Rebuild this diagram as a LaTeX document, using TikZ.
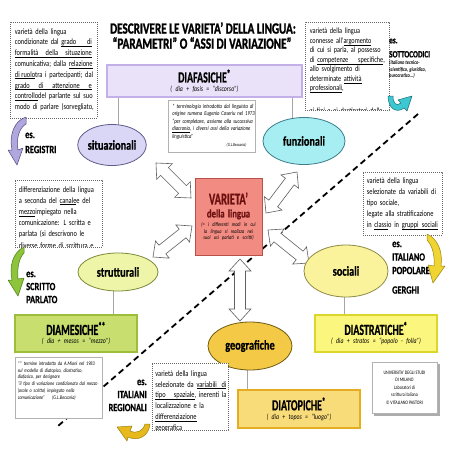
\documentclass[tikz,border=0pt]{standalone}
\usepackage{fontspec}
\setmainfont{Carlito}[FakeStretch=0.78]
\newfontfamily\titlefont{Carlito}[FakeStretch=0.72,FakeBold=1.2]
\newfontfamily\headfont{Carlito}[FakeStretch=0.64,FakeBold=0.6]
\newfontfamily\labfont{Carlito}[FakeStretch=0.76,FakeBold=0.7]
\usetikzlibrary{shapes.geometric,calc}
\pgfdeclarelayer{bg}
\pgfsetlayers{bg,main}
\newcommand{\jline}[1]{\hbox to\hsize{#1}}
\newcommand{\nline}[1]{\hbox to\hsize{#1\hfil}}
\newcommand{\ulw}[1]{\setbox0\hbox{#1}\rlap{\vrule height -1.2pt depth 1.7pt width\wd0}\box0}
\newcommand{\uls}{\leaders\hrule height -1.2pt depth 1.7pt\hskip 0.25em plus 0.4em minus 0.05em}
\newcommand{\dblarrow}[3]{%
  \coordinate (#1ha) at ($(#2)!12pt!(#3)$);
  \coordinate (#1hb) at ($(#3)!12pt!(#2)$);
  \filldraw[blockarrow] (#2) -- ($(#1ha)!11pt!90:(#3)$) -- ($(#1ha)!5.5pt!90:(#3)$)
    -- ($(#1hb)!5.5pt!-90:(#2)$) -- ($(#1hb)!11pt!-90:(#2)$) -- (#3)
    -- ($(#1hb)!11pt!90:(#2)$) -- ($(#1hb)!5.5pt!90:(#2)$)
    -- ($(#1ha)!5.5pt!-90:(#3)$) -- ($(#1ha)!11pt!-90:(#3)$) -- cycle;}
\definecolor{diaffill}{HTML}{EAE2F8}
\definecolor{diafdraw}{HTML}{C4B0E8}
\definecolor{sitfill}{HTML}{DAD6F6}
\definecolor{sitdraw}{HTML}{5C5C8A}
\definecolor{funzfill}{HTML}{A6EEF2}
\definecolor{funzdraw}{HTML}{3A7D8C}
\definecolor{varfill}{HTML}{F28B82}
\definecolor{vardraw}{HTML}{B5524B}
\definecolor{vartxt}{HTML}{6B0F0F}
\definecolor{strfill}{HTML}{EEF4A8}
\definecolor{strdraw}{HTML}{7C8A3A}
\definecolor{diamfill}{HTML}{C8DF70}
\definecolor{diamdraw}{HTML}{9DBE3B}
\definecolor{socfill}{HTML}{FBF39C}
\definecolor{socdraw}{HTML}{8C8A44}
\definecolor{diastfill}{HTML}{FBF67E}
\definecolor{diastdraw}{HTML}{DCD52A}
\definecolor{geofill}{HTML}{F4C945}
\definecolor{geodraw}{HTML}{6E5A12}
\definecolor{diatfill}{HTML}{F9DC7A}
\definecolor{diatdraw}{HTML}{E5AE22}
\definecolor{lavarrow}{HTML}{B2A6DE}
\definecolor{lavdark}{HTML}{4A4A7A}
\definecolor{greenarrow}{HTML}{8CC43C}
\definecolor{greendark}{HTML}{4E7A18}
\definecolor{yelarrow}{HTML}{F0D431}
\definecolor{yeldark}{HTML}{9A8410}
\definecolor{goldarrow}{HTML}{E7B91C}
\definecolor{tealarrow}{HTML}{3CC8D0}
\definecolor{tealdark}{HTML}{1D6E7A}
\begin{document}
\begin{tikzpicture}[x=1pt,y=-1pt,
  titletext/.style={inner sep=0pt, font=\titlefont\bfseries\fontsize{15.5}{17}\selectfont},
  notebox/.style={draw=gray!80!black, line width=0.6pt, dash pattern=on 0.8pt off 1.2pt, fill=white, inner sep=0pt},
  ntext/.style={inner sep=0pt, anchor=north west},
  footbox/.style={draw=gray!60, line width=0.7pt, fill=white, inner sep=0pt},
  ell/.style={ellipse, line width=0.8pt, inner sep=0pt, font=\labfont\bfseries\fontsize{13.5}{15}\selectfont},
  catbox/.style={line width=1.8pt, inner sep=0pt, align=center},
  estext/.style={inner sep=0pt, font=\labfont\bfseries\fontsize{11}{13}\selectfont, align=left, anchor=north west},
  link/.style={draw=gray!70, line width=0.8pt},
  blockarrow/.style={draw=gray!75!black, fill=white, line width=0.6pt, line join=miter},
  curvarrow/.style={line width=0.5pt, line join=round},
]
\begin{pgfonlayer}{bg}
\fill[white] (0,0) rectangle (453,453);
\end{pgfonlayer}
\useasboundingbox (0,0) rectangle (453,453);

% ---------- title
\node[titletext] (t1) at (203,28) {DESCRIVERE LE VARIETA’ DELLA LINGUA:};
\node[titletext] (t2) at (202,43) {“PARAMETRI” O “ASSI DI VARIAZIONE”};

% ---------- dashed diagonal
\coordinate (dA) at (418,114);
\coordinate (dB) at (58,426);
\begin{pgfonlayer}{bg}
\draw[black, line width=1.8pt, dash pattern=on 6pt off 4pt] (dA) -- (dB);
\end{pgfonlayer}

% ---------- block double arrows
\coordinate (a1s) at (156,163); \coordinate (a1e) at (191,198);
\coordinate (a2s) at (297,172); \coordinate (a2e) at (266,213);
\coordinate (a3s) at (153,257); \coordinate (a3e) at (192,226);
\coordinate (a4s) at (268,230); \coordinate (a4e) at (309,263);
\coordinate (a5s) at (240,259); \coordinate (a5e) at (240,321);
\dblarrow{a1}{a1s}{a1e}
\dblarrow{a2}{a2s}{a2e}
\dblarrow{a3}{a3s}{a3e}
\dblarrow{a4}{a4s}{a4e}
\dblarrow{a5}{a5s}{a5e}

% ---------- category boxes
\node[catbox, fill=diaffill, draw=diafdraw, minimum width=195pt, minimum height=32pt, text width=185pt] (diaf) at (204.5,81)
  {{\headfont\bfseries\fontsize{15.5}{16}\selectfont DIAFASICHE\textsuperscript{*}\par}{\fontsize{7.5}{9}\selectfont\itshape ( dia + fasis = “discorso”)\par}};
\node[catbox, fill=diamfill, draw=diamdraw, minimum width=122pt, minimum height=37pt, text width=115pt] (diam) at (76,333.5)
  {{\headfont\bfseries\fontsize{15.5}{16}\selectfont DIAMESICHE\textsuperscript{**}\par}{\fontsize{7.5}{9}\selectfont\itshape ( dia + mesos = “mezzo”)\par}};
\node[catbox, fill=diastfill, draw=diastdraw, minimum width=122pt, minimum height=37pt, text width=115pt] (diast) at (376,333.5)
  {{\headfont\bfseries\fontsize{15.5}{16}\selectfont DIASTRATICHE\textsuperscript{*}\par}{\fontsize{7.5}{9}\selectfont\itshape ( dia + stratos = “popolo - folla”)\par}};
\node[catbox, fill=diatfill, draw=diatdraw, minimum width=122pt, minimum height=38pt, text width=115pt] (diat) at (299,409)
  {{\headfont\bfseries\fontsize{15.5}{16}\selectfont DIATOPICHE\textsuperscript{*}\par}{\fontsize{7.5}{9}\selectfont\itshape ( dia + topos = “luogo”)\par}};

% ---------- central box
\node[catbox, line width=0.9pt, fill=varfill, draw=vardraw, minimum width=67pt, minimum height=77pt, text width=64pt] (var) at (228.5,216.5)
  {{\headfont\bfseries\fontsize{16.5}{17}\selectfont\color{vartxt}VARIETA’\par}
   {\labfont\fontsize{11.5}{13}\selectfont\bfseries\color{vartxt} della lingua\par}
   \vspace{3pt}
   {\fontsize{5.6}{6.4}\selectfont\itshape (= i differenti modi in cui\\la lingua si realizza nei\\suoi usi parlati e scritti)\par}};

% ---------- ellipses
\node[ell, fill=sitfill, draw=sitdraw, minimum width=68pt, minimum height=41pt] (sit) at (112,145) {situazionali};
\node[ell, fill=funzfill, draw=funzdraw, minimum width=82pt, minimum height=47pt] (funz) at (304,141) {funzionali};
\node[ell, fill=strfill, draw=strdraw, minimum width=80pt, minimum height=38pt] (strut) at (118,272) {strutturali};
\node[ell, fill=socfill, draw=socdraw, minimum width=84pt, minimum height=52pt] (soc) at (346,271) {sociali};
\node[ell, fill=geofill, draw=geodraw, minimum width=84pt, minimum height=48pt] (geo) at (250,346) {geografiche};

% ---------- connectors
\begin{pgfonlayer}{bg}
\draw[link] ([xshift=6pt]sit.center |- diaf.south) -- ([xshift=6pt]sit.center);
\draw[link] ([xshift=-12pt]funz.center |- diaf.south) -- ([xshift=-12pt]funz.center);
\draw[link] ([xshift=-5pt]strut.center) -- ([xshift=-5pt]strut.center |- diam.north);
\draw[link] ([xshift=-2pt]soc.center) -- ([xshift=-2pt]soc.center |- diast.north);
\draw[link] ([xshift=-3pt]geo.center) -- ([xshift=-3pt]geo.center |- diat.north);
\end{pgfonlayer}

% ---------- dotted note boxes
\node[notebox, minimum width=87pt, minimum height=96pt] (tl) at (53.5,70) {};
\begin{scope}
\clip ([shift={(0.8pt,0.8pt)}]tl.south west) rectangle ([shift={(-0.8pt,-0.8pt)}]tl.north east);
\node[ntext, text width=77pt, font=\fontsize{8.2}{10.8}\selectfont] (tltx) at ([shift={(5pt,-6.5pt)}]tl.north west) {%
\nline{varietà della lingua}
\jline{condizionate dal \ulw{grado}\uls\ulw{di}}
\jline{\ulw{formalità}\uls\ulw{della}\uls\ulw{situazione}}
\jline{comunicativa; dalla \ulw{relazione}}
\jline{\ulw{di}\uls\ulw{ruolo} tra i partecipanti; dal}
\jline{\ulw{grado}\uls\ulw{di}\uls\ulw{attenzione}\uls\ulw{e}}
\jline{\ulw{controllo} del parlante sul suo}
\jline{modo di parlare (sorvegliato,}};
\end{scope}

\node[notebox, minimum width=84pt, minimum height=88pt] (tr) at (347,66) {};
\begin{scope}
\clip ([shift={(0.8pt,0.8pt)}]tr.south west) rectangle ([shift={(-0.8pt,-0.8pt)}]tr.north east);
\node[ntext, text width=75pt, font=\fontsize{8}{9.5}\selectfont] (trtx) at ([shift={(5pt,-6.5pt)}]tr.north west) {%
\nline{varietà della lingua}
\nline{connesse all’\ulw{argomento}}
\jline{di cui si parla, al possesso}
\jline{di \ulw{competenze}\uls\ulw{specifiche},}
\jline{allo svolgimento di}
\jline{determinate \ulw{attività}}
\nline{\ulw{professionali},}\par
\vspace{13pt}
\jline{ai fini e ai destinatari della}};
\end{scope}

\node[notebox, minimum width=87pt, minimum height=67pt] (lm) at (58.5,213.5) {};
\begin{scope}
\clip ([shift={(0.8pt,0.8pt)}]lm.south west) rectangle ([shift={(-0.8pt,-0.8pt)}]lm.north east);
\node[ntext, text width=79pt, font=\fontsize{8.2}{11.2}\selectfont] (lmtx) at ([shift={(4pt,-6.5pt)}]lm.north west) {%
\jline{differenziazione della lingua}
\jline{a seconda del \ulw{canale} e del}
\jline{\ulw{mezzo} impiegato nella}
\jline{comunicazione: L scritta e}
\jline{parlata (si descrivono le}
\jline{diverse forme di scrittura e}};
\end{scope}

\node[notebox, minimum width=79pt, minimum height=63pt] (rm) at (402.5,203.5) {};
\begin{scope}
\clip ([shift={(0.8pt,0.8pt)}]rm.south west) rectangle ([shift={(-0.8pt,-0.8pt)}]rm.north east);
\node[ntext, text width=71pt, font=\fontsize{8.2}{11}\selectfont] (rmtx) at ([shift={(4pt,-6pt)}]rm.north west) {%
\nline{varietà della lingua}
\jline{selezionate da variabili di}
\nline{tipo sociale,}
\jline{legate alla stratificazione}
\jline{in \ulw{classi} o in \ulw{gruppi}\uls\ulw{sociali}}};
\end{scope}

\node[notebox, minimum width=76pt, minimum height=67pt] (bb) at (190,396.5) {};
\begin{scope}
\clip ([shift={(0.8pt,0.8pt)}]bb.south west) rectangle ([shift={(-0.8pt,-0.8pt)}]bb.north east);
\node[ntext, text width=71pt, font=\fontsize{8.2}{10.7}\selectfont] (bbtx) at ([shift={(3.5pt,-8pt)}]bb.north west) {%
\nline{varietà della lingua}
\jline{selezionate da \ulw{variabili}\uls\ulw{di}}
\jline{\ulw{tipo}\uls\ulw{spaziale}, inerenti la}
\jline{localizzazione e la}
\nline{\ulw{differenziazione}}
\nline{geografica}};
\end{scope}

% ---------- footnote boxes
\node[footbox, minimum width=87pt, minimum height=52pt] (f1) at (211.5,126) {};
\node[ntext, text width=78pt, font=\fontsize{6}{7.6}\selectfont\itshape] (f1tx) at ([shift={(4.5pt,-4pt)}]f1.north west) {%
\jline{* terminologia introdotta dal linguista di}
\jline{origine rumena Eugenio Coseriu nel 1973}
\jline{“per completare, assieme alla successiva}
\jline{\ulw{diacronia}, i diversi assi della variazione}
\nline{linguistica”}
\vspace{1.5pt}
\hbox to\hsize{\hfill\fontsize{4.5}{5}\selectfont (G.L.Beccaria)\hspace{4pt}}};

\node[footbox, minimum width=87pt, minimum height=61pt] (f2) at (58.5,387.5) {};
\node[ntext, text width=81pt, font=\fontsize{5.4}{6.9}\selectfont\itshape] (f2tx) at ([shift={(3pt,-4.5pt)}]f2.north west) {%
\jline{** termine introdotto da A.Mioni nel 1983}
\jline{sul modello di diatopico, diastratico,}
\jline{diafasico, per designare}
\jline{“il tipo di variazione condizionato dal mezzo}
\jline{(orale o scritto) impiegato nella}
\nline{comunicazione” \quad (G.L.Beccaria)}};

% ---------- university box
\node[draw=gray!60, line width=0.6pt, fill=white, minimum width=65pt, minimum height=51pt, inner sep=0pt, align=center, font=\fontsize{5.2}{7.5}\selectfont] (univ) at (404.5,387.5)
  {UNIVERSITA’ DEGLI STUDI\\DI MILANO\\Laboratori di\\scrittura italiana\\© VITALIANO PASTORI};
\begin{pgfonlayer}{bg}
\fill[gray!65] ([shift={(2.5pt,-2.5pt)}]univ.south west) rectangle ([shift={(2.5pt,-2.5pt)}]univ.north east);
\end{pgfonlayer}

% ---------- examples
\node[estext, font=\labfont\bfseries\fontsize{11}{15}\selectfont] (esreg) at (25,132.5) {es.\\REGISTRI};
\node[estext] (esscr) at (26,271.5) {es.\\SCRITTO\\PARLATO};
\node[estext, font=\labfont\bfseries\fontsize{9.5}{14}\selectfont] (essot) at (389,38.5) {es.\\SOTTOCODICI};
\node[estext, font=\bfseries\itshape\fontsize{5.6}{6.3}\selectfont] (sotdesc) at (389,60.5) {(italiano tecnico-\\scientifico, giuridico,\\burocratico...)};
\node[estext, font=\labfont\bfseries\fontsize{11}{13.5}\selectfont] (esita) at (392,241.5) {es.\\ITALIANO\\POPOLARE\\[6pt]GERGHI};
\node[estext, anchor=north east, align=right] (esreg2) at (147,379.5) {es.\\ITALIANI\\REGIONALI};

% ---------- curved arrows
\filldraw[curvarrow, fill=lavarrow, draw=lavdark] (26,117) .. controls (14,121) and (9,135) .. (12,150)
  -- (8,150) -- (17,165) -- (23,148) -- (18,150) .. controls (16,139) and (19,128) .. (26,124) -- cycle;
\filldraw[curvarrow, fill=greenarrow, draw=greendark] (24,247) .. controls (13,252) and (9,266) .. (12,280)
  -- (8,280) -- (18,296) -- (24,278) -- (18,279) .. controls (17,268) and (19,258) .. (24,253) -- cycle;
\filldraw[curvarrow, fill=yelarrow, draw=yeldark] (427,234) .. controls (438,239) and (443,252) .. (441,266)
  -- (445,266) -- (433,283) -- (428,265) -- (434,266) .. controls (435,255) and (432,245) .. (427,240) -- cycle;
\filldraw[curvarrow, fill=goldarrow, draw=yeldark] (150,424) .. controls (149,436) and (138,442) .. (128,437)
  -- (127,441) -- (117,427) -- (132,426) -- (130,431) .. controls (137,434) and (143,431) .. (145,424) -- cycle;
\filldraw[curvarrow, fill=tealarrow, draw=tealdark] (388,96) .. controls (388,108) and (396,114) .. (404,108)
  -- (407,111) -- (412,96) -- (398,100) -- (401,103) .. controls (396,107) and (393,103) .. (393,96) -- cycle;
\end{tikzpicture}
\end{document}
